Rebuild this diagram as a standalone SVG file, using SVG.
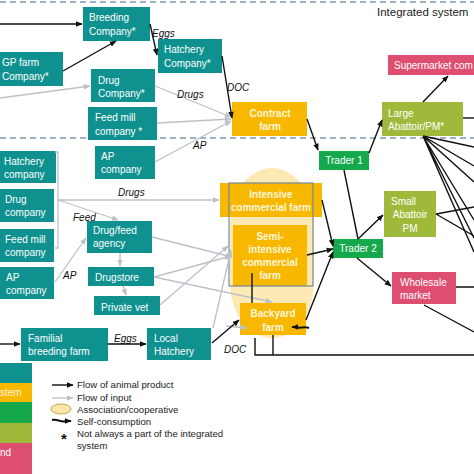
<svg xmlns="http://www.w3.org/2000/svg" width="474" height="474" viewBox="0 0 474 474">
<style>
.t{fill:#0f918f}.o{fill:#f9b800}.g{fill:#15a94c}.v{fill:#9fba3a}.p{fill:#de4e70}
text{font-family:"Liberation Sans",Arial,sans-serif}
.w{fill:#ffffff;font-size:10px}
.wc{fill:#fff6dc;font-size:10px;text-anchor:middle;font-weight:bold}
.lb{fill:#111;font-size:10px;font-style:italic}
.lg{fill:#222;font-size:9.6px}
.k{stroke:#111;stroke-width:1.4;fill:none}
.ka{stroke:#111;stroke-width:1.4;fill:none;marker-end:url(#ab)}
.ga{stroke:#bcc1c8;stroke-width:1.3;fill:none;marker-end:url(#ag)}
.gl{stroke:#bcc1c8;stroke-width:1.3;fill:none}
.dash{stroke:#7f97ae;stroke-width:1.5;stroke-dasharray:6 4;fill:none}
</style>
<defs>
<marker id="ab" viewBox="0 0 10 10" refX="9" refY="5" markerUnits="userSpaceOnUse" markerWidth="7" markerHeight="7" orient="auto"><path d="M0,1 L10,5 L0,9 z" fill="#111"/></marker>
<marker id="ag" viewBox="0 0 10 10" refX="9" refY="5" markerUnits="userSpaceOnUse" markerWidth="7" markerHeight="7" orient="auto"><path d="M0,1 L10,5 L0,9 z" fill="#bcc1c8"/></marker>
</defs>
<rect width="474" height="474" fill="#ffffff"/>
<line class="dash" x1="0" y1="2" x2="474" y2="2"/>
<line class="dash" x1="0" y1="138" x2="474" y2="138"/>
<text x="377" y="16" style="fill:#222;font-size:11.5px">Integrated system</text>
<rect id="cooperative" x="230" y="168" width="84" height="170" rx="42" ry="55" fill="#fce7ab" opacity="0.9"/>

<g id="breeding"><rect class="t" x="83" y="7" width="67" height="34"/><text class="w" x="89" y="21">Breeding</text><text class="w" x="89" y="34.5">Company*</text></g>
<g id="gpfarm"><rect class="t" x="0" y="52" width="63" height="34"/><text class="w" x="2" y="66">GP farm</text><text class="w" x="2" y="79.5">Company*</text></g>
<g id="hatcheryco"><rect class="t" x="158" y="39" width="64" height="34"/><text class="w" x="164" y="53">Hatchery</text><text class="w" x="164" y="66.5">Company*</text></g>
<g id="drugco"><rect class="t" x="91" y="69" width="64" height="33"/><text class="w" x="98" y="83.5">Drug</text><text class="w" x="98" y="96.5">Company*</text></g>
<g id="feedmillco"><rect class="t" x="88" y="107" width="69" height="33"/><text class="w" x="95" y="121">Feed mill</text><text class="w" x="95" y="134.5">company *</text></g>
<g id="apco"><rect class="t" x="95" y="146" width="60" height="33"/><text class="w" x="101" y="159.5">AP</text><text class="w" x="101" y="172.5">company</text></g>
<g id="contract"><rect class="o" x="232" y="102" width="75" height="34"/><text class="wc" x="270" y="116.5">Contract</text><text class="wc" x="270" y="129.5">farm</text></g>
<g id="trader1"><rect class="g" x="319" y="151" width="50" height="19"/><text class="w" x="344" y="164" text-anchor="middle">Trader 1</text></g>
<g id="large"><rect class="v" x="382" y="102" width="81" height="34"/><text class="w" x="388" y="116.5">Large</text><text class="w" x="388" y="129.5">Abattoir/PM*</text></g>
<g id="supermarket"><rect class="p" x="388" y="55" width="86" height="20"/><text class="w" x="394" y="68.5">Supermarket com</text></g>
<g id="small"><rect class="v" x="384" y="191" width="52" height="46"/><text class="w" x="391" y="204.5">Small</text><text class="w" x="410" y="217.5" text-anchor="middle">Abattoir</text><text class="w" x="410" y="231.5" text-anchor="middle">PM</text></g>
<g id="wholesale"><rect class="p" x="392" y="272" width="64" height="32"/><text class="w" x="400" y="285.5">Wholesale</text><text class="w" x="400" y="298.5">market</text></g>
<g id="trader2"><rect class="g" x="333" y="239" width="50" height="19"/><text class="w" x="358" y="252" text-anchor="middle">Trader 2</text></g>
<g id="intensive"><rect class="o" x="220" y="183" width="102" height="34"/><text class="wc" x="271" y="197.5">Intensive</text><text class="wc" x="271" y="210.5">commercial farm</text></g>
<g id="semi"><rect class="o" x="233" y="225" width="74" height="61"/><text class="wc" x="270" y="239.5">Semi-</text><text class="wc" x="270" y="252.5">intensive</text><text class="wc" x="270" y="265.5">commercial</text><text class="wc" x="270" y="278.5">farm</text></g>
<g id="backyard"><rect class="o" x="240" y="303" width="66" height="32"/><text class="wc" x="273" y="316.5">Backyard</text><text class="wc" x="273" y="330.5">farm</text></g>
<rect id="association-box" x="229" y="183" width="84" height="103" fill="none" stroke="#75899b" stroke-width="1.2"/>
<g id="hatchery2"><rect class="t" x="0" y="151" width="56" height="32"/><text class="w" x="4" y="164.5">Hatchery</text><text class="w" x="4" y="177.5">company</text></g>
<g id="drug2"><rect class="t" x="0" y="189" width="54" height="33"/><text class="w" x="5" y="202.5">Drug</text><text class="w" x="5" y="215.5">company</text></g>
<g id="feedmill2"><rect class="t" x="0" y="229" width="54" height="33"/><text class="w" x="5" y="242.5">Feed mill</text><text class="w" x="5" y="255.5">company</text></g>
<g id="ap2"><rect class="t" x="0" y="267" width="54" height="32"/><text class="w" x="6" y="280.5">AP</text><text class="w" x="6" y="293.5">company</text></g>
<g id="agency"><rect class="t" x="87" y="221" width="65" height="32"/><text class="w" x="93" y="233.5">Drug/feed</text><text class="w" x="93" y="247">agency</text></g>
<g id="drugstore"><rect class="t" x="88" y="267" width="66" height="19"/><text class="w" x="95" y="280.5">Drugstore</text></g>
<g id="vet"><rect class="t" x="94" y="296" width="66" height="19"/><text class="w" x="101" y="310.5">Private vet</text></g>
<g id="familial"><rect class="t" x="21" y="328" width="87" height="33"/><text class="w" x="28" y="341.5">Familial</text><text class="w" x="28" y="354.5">breeding farm</text></g>
<g id="localhatchery"><rect class="t" x="147" y="328" width="64" height="32"/><text class="w" x="154" y="341.5">Local</text><text class="w" x="154" y="354.5">Hatchery</text></g>

<g id="connectors">
<line class="ga" x1="0" y1="98" x2="90" y2="86"/>
<line class="ga" x1="155" y1="86" x2="231" y2="117"/>
<line class="ga" x1="157" y1="123" x2="231" y2="119"/>
<line class="ga" x1="155" y1="162" x2="231" y2="121"/>
<path class="gl" d="M55,152 H58 V248 H55"/>
<line class="ga" x1="58" y1="200" x2="219" y2="200"/>
<line class="ga" x1="58" y1="200" x2="118" y2="220"/>
<line class="ga" x1="55" y1="282" x2="86" y2="238"/>
<line class="ga" x1="120" y1="253" x2="120" y2="266"/>
<line class="ga" x1="123" y1="286" x2="126" y2="295"/>
<line class="ga" x1="152" y1="237" x2="232" y2="257"/>
<line class="ga" x1="154" y1="277" x2="231" y2="256"/>
<line class="ga" x1="154" y1="277" x2="272" y2="302"/>
<line class="ga" x1="160" y1="305" x2="228" y2="246"/>
<line class="ga" x1="213" y1="328" x2="231" y2="250"/>
<line class="ga" x1="226" y1="326" x2="247" y2="328"/>

<line class="ka" x1="0" y1="24" x2="82" y2="24"/>
<line class="ka" x1="63" y1="71" x2="116" y2="41"/>
<line class="ka" x1="150" y1="24" x2="157" y2="55"/>
<line class="ka" x1="222" y1="56" x2="232" y2="118"/>
<line class="ka" x1="307" y1="119" x2="318" y2="150"/>
<line class="ka" x1="369" y1="153" x2="382" y2="120"/>
<line class="ka" x1="423" y1="102" x2="448" y2="76"/>
<line class="k" x1="463" y1="118" x2="474" y2="118"/>
<path class="k" d="M423,136 L474,147 M423,136 L474,166 M423,136 L474,182 M423,136 L474,220 M423,136 L474,238 M423,136 L474,252"/>
<path class="k" d="M436,214 L474,207 M436,214 L474,236"/>
<path class="k" d="M456,287 L474,287 M424,305 L474,332"/>
<line class="k" x1="344" y1="170" x2="358" y2="239"/>
<line class="ka" x1="358" y1="239" x2="383" y2="215"/>
<line class="ka" x1="357" y1="258" x2="391" y2="286"/>
<line class="ka" x1="322" y1="200" x2="333" y2="246"/>
<line class="ka" x1="307" y1="255" x2="333" y2="249"/>
<line class="ka" x1="306" y1="320" x2="333" y2="252"/>
<line class="k" x1="252" y1="273" x2="252" y2="303"/>
<path class="k" d="M255,338 V355 H474 M273,335 V355"/>
<path d="M309,328 C304,326 300,329 296,327 L292,327" stroke="#111" stroke-width="2" fill="none" marker-end="url(#ab)"/>
<line class="ka" x1="0" y1="344" x2="20" y2="344"/>
<line class="ka" x1="108" y1="344" x2="146" y2="344"/>
<line class="ka" x1="212" y1="343" x2="239" y2="320"/>
</g>

<g id="labels">
<text class="lb" x="152" y="37">Eggs</text>
<text class="lb" x="227" y="91">DOC</text>
<text class="lb" x="177" y="97.5">Drugs</text>
<text class="lb" x="193" y="149">AP</text>
<text class="lb" x="118" y="195.5">Drugs</text>
<text class="lb" x="73" y="220.5">Feed</text>
<text class="lb" x="63" y="278.5">AP</text>
<text class="lb" x="114" y="341.5">Eggs</text>
<text class="lb" x="224" y="352.5">DOC</text>
</g>

<g id="legend">
<rect class="t" x="0" y="363" width="32" height="20"/>
<rect class="o" x="0" y="383" width="32" height="19"/>
<text class="w" x="0" y="396" style="fill:#fff6dc">stem</text>
<rect class="g" x="0" y="402" width="32" height="21"/>
<rect class="v" x="0" y="423" width="32" height="20"/>
<rect class="p" x="0" y="443" width="32" height="31"/>
<text class="w" x="0" y="456">nd</text>
<line class="ka" x1="52" y1="385" x2="73" y2="385"/>
<text class="lg" x="77" y="388">Flow of animal product</text>
<line class="ga" x1="52" y1="398" x2="73" y2="398"/>
<text class="lg" x="77" y="400.5">Flow of input</text>
<ellipse cx="61" cy="409" rx="10" ry="5" fill="#fce7ab" stroke="#c9a64a" stroke-width="1"/>
<text class="lg" x="77" y="412.5">Association/cooperative</text>
<path d="M52,420 C58,419 62,423 66,421 L71,421" stroke="#111" stroke-width="2" fill="none" marker-end="url(#ab)"/>
<text class="lg" x="77" y="424.5">Self-consumption</text>
<text x="61" y="444" style="fill:#111;font-size:15px;font-weight:bold">*</text>
<text class="lg" x="77" y="436.5">Not always a part of the integrated</text>
<text class="lg" x="77" y="448.5">system</text>
</g>
</svg>
